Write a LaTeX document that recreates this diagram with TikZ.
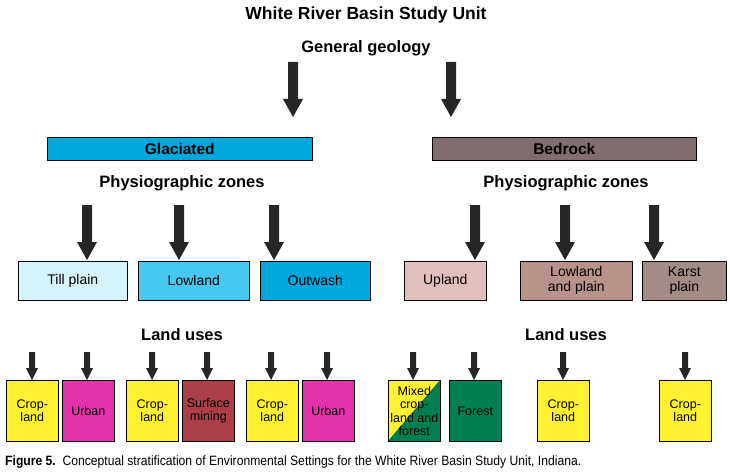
\documentclass[tikz,border=0pt]{standalone}
\usepackage{fontspec}
\setmainfont{Liberation Sans}
\newfontfamily\capfont{Liberation Sans}[FakeStretch=0.9]
\begin{document}
\begin{tikzpicture}[x=1pt,y=-1pt,
  box/.style={draw=black,line width=0.6pt,inner sep=0pt,anchor=north west,align=center,font=\fontsize{14}{15}\selectfont},
  small/.style={box,minimum width=52pt,minimum height=61pt,font=\fontsize{12.5}{13.5}\selectfont},
  hd/.style={font=\bfseries\fontsize{16.5}{18}\selectfont}]
\definecolor{cy}{RGB}{0,168,222}
\definecolor{br}{RGB}{128,110,110}
\definecolor{tp}{RGB}{212,244,250}
\definecolor{lw}{RGB}{70,200,240}
\definecolor{up}{RGB}{226,190,188}
\definecolor{lp}{RGB}{186,146,140}
\definecolor{kp}{RGB}{162,140,134}
\definecolor{yl}{RGB}{255,240,50}
\definecolor{mg}{RGB}{228,50,170}
\definecolor{sm}{RGB}{172,62,72}
\definecolor{fg}{RGB}{0,128,80}
\useasboundingbox (0,0) rectangle (730,473);
\newcommand{\bigarrow}[4]{%
  \fill[black!85] (#1-#4,#2) -- (#1+#4,#2) -- (#1+#4,#3-18) -- (#1+10,#3-18) -- (#1,#3) -- (#1-10,#3-18) -- (#1-#4,#3-18) -- cycle;}
\newcommand{\smallarrow}[1]{%
  \fill[black!85] (#1-3,352) -- (#1+3,352) -- (#1+3,368) -- (#1+6,368) -- (#1,380) -- (#1-6,368) -- (#1-3,368) -- cycle;}
\node[font=\bfseries\fontsize{17.5}{19}\selectfont] (title) at (366,15) {White River Basin Study Unit};
\node[hd] (gg) at (366,48) {General geology};
\bigarrow{293}{62}{117}{5}
\bigarrow{451}{62}{117}{5}
\node[box,fill=cy,minimum width=265pt,minimum height=23pt,font=\bfseries\fontsize{15.5}{17}\selectfont] (gl) at (47,137) {Glaciated};
\node[box,fill=br,minimum width=264pt,minimum height=23pt,font=\bfseries\fontsize{15.5}{17}\selectfont] (bd) at (432,137) {Bedrock};
\node[hd] (pz1) at (182,183) {Physiographic zones};
\node[hd] (pz2) at (566,183) {Physiographic zones};
\foreach \x in {87,179,274,475,565,654}{\bigarrow{\x}{205}{260}{5}}
\node[box,fill=tp,minimum width=109pt,minimum height=39pt] (till) at (18,261) {Till plain};
\node[box,fill=lw,minimum width=111pt,minimum height=39pt] (low) at (138,261) {Lowland};
\node[box,fill=cy,minimum width=110pt,minimum height=39pt] (out) at (260,261) {Outwash};
\node[box,fill=up,minimum width=82pt,minimum height=39pt] (upl) at (404,261) {Upland};
\node[box,fill=lp,minimum width=112pt,minimum height=39pt] (lap) at (520,261) {Lowland\\and plain};
\node[box,fill=kp,minimum width=84pt,minimum height=39pt] (kar) at (642,261) {Karst\\plain};
\node[hd] (lu1) at (182,335) {Land uses};
\node[hd] (lu2) at (566,335) {Land uses};
\foreach \x in {32,87,152,207,271,327,413,474,563,685}{\smallarrow{\x}}
\node[small,fill=yl] (c1) at (6,380) {Crop-\\land};
\node[small,fill=mg] (u1) at (62,380) {Urban};
\node[small,fill=yl] (c2) at (126,380) {Crop-\\land};
\node[small,fill=sm] (s1) at (182,380) {Surface\\mining};
\node[small,fill=yl] (c3) at (246,380) {Crop-\\land};
\node[small,fill=mg] (u2) at (302,380) {Urban};
\fill[yl] (388,380) -- (440,380) -- (388,441) -- cycle;
\fill[fg] (440,380) -- (440,441) -- (388,441) -- cycle;
\node[small] (mx) at (388,380) {Mixed\\crop-\\land and\\forest};
\node[small,fill=fg] (fo) at (449,380) {Forest};
\node[small,fill=yl] (c4) at (537,380) {Crop-\\land};
\node[small,fill=yl] (c5) at (659,380) {Crop-\\land};
\node[anchor=west,inner sep=0pt,font=\capfont\fontsize{13.5}{15}\selectfont] (cap) at (5,462) {\textbf{Figure 5.}\enspace Conceptual stratification of Environmental Settings for the White River Basin Study Unit, Indiana.};
\end{tikzpicture}
\end{document}
